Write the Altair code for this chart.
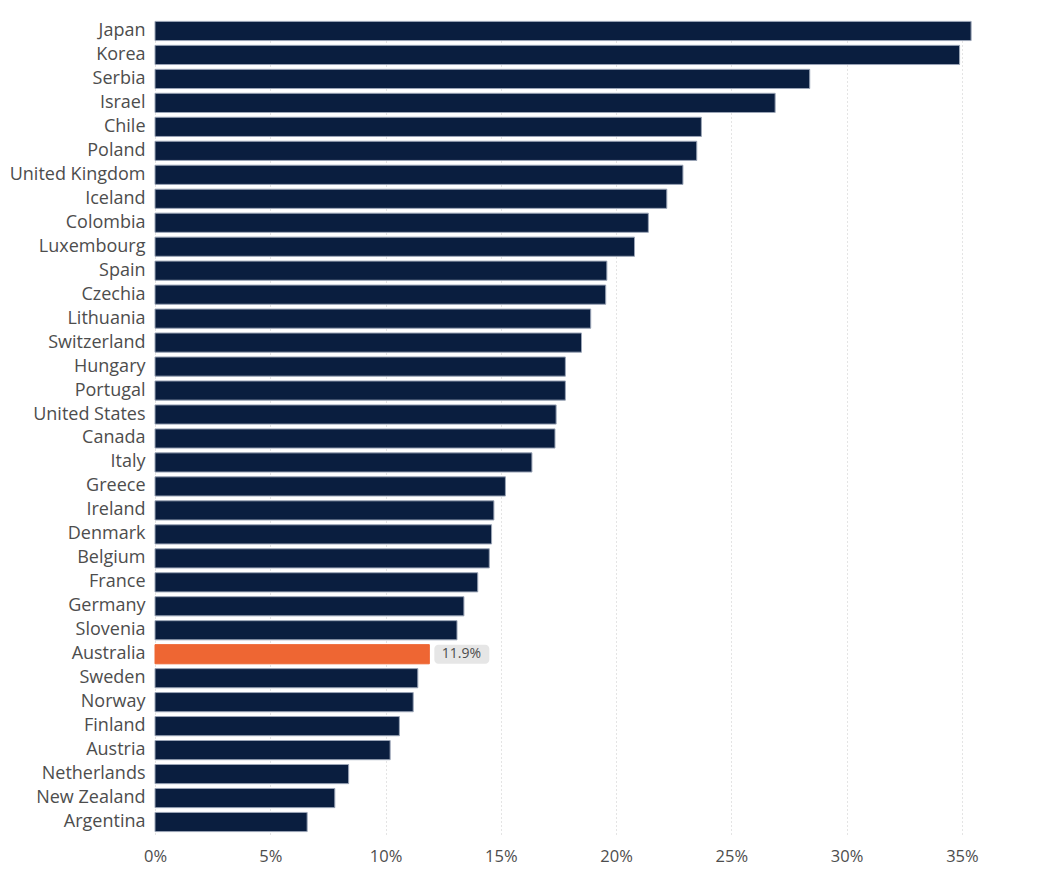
import altair as alt
import pandas as pd

countries = ["Japan", "Korea", "Serbia", "Israel", "Chile", "Poland", "United Kingdom",
             "Iceland", "Colombia", "Luxembourg", "Spain", "Czechia", "Lithuania",
             "Switzerland", "Hungary", "Portugal", "United States", "Canada", "Italy",
             "Greece", "Ireland", "Denmark", "Belgium", "France", "Germany", "Slovenia",
             "Australia", "Sweden", "Norway", "Finland", "Austria", "Netherlands",
             "New Zealand", "Argentina"]
values = [35.4, 34.9, 28.4, 26.9, 23.7, 23.5, 22.9, 22.2, 21.4, 20.8, 19.6, 19.55,
          18.9, 18.5, 17.8, 17.8, 17.4, 17.35, 16.35, 15.2, 14.7, 14.6, 14.5, 14.0,
          13.4, 13.1, 11.9, 11.4, 11.2, 10.6, 10.2, 8.4, 7.8, 6.6]
highlight = "Australia"
x_ticks = [0, 0.05, 0.10, 0.15, 0.20, 0.25, 0.30, 0.35]

df = pd.DataFrame({
    "country": countries,
    "value": [v / 100 for v in values],
    "hl": [c == highlight for c in countries],
})
df["label"] = df["value"].map(lambda v: f"{v*100:.1f}%")

FONT = "Open Sans"

y_enc = alt.Y("country:N", sort=None, title=None,
              scale=alt.Scale(paddingInner=0.2, paddingOuter=0.1),
              axis=alt.Axis(ticks=False, domain=False, labelFontSize=18,
                            labelColor="#4d4d4d", labelFont=FONT, labelPadding=10))
x_enc = alt.X("value:Q", title=None,
              scale=alt.Scale(domain=[0, 0.37], nice=False, zero=True),
              axis=alt.Axis(format=".0%", values=x_ticks, ticks=False, domain=False,
                            grid=True, gridDash=[1, 3], gridColor="#c8c8c8",
                            gridWidth=1, labelFontSize=16.5, labelColor="#4d4d4d",
                            labelFont=FONT, labelPadding=14, labelFlush=False))

base = alt.Chart(df)

bars = base.mark_bar(strokeWidth=1).encode(
    y=y_enc,
    x=x_enc,
    color=alt.condition("datum.hl", alt.value("#ee6633"), alt.value("#0a1e3f")),
    stroke=alt.condition("datum.hl", alt.value("#ee6633"), alt.value("#9aa4b6")),
)

hl_df = base.transform_filter("datum.hl")

tag = hl_df.mark_rect(color="#e6e6e6", cornerRadius=4, xOffset=5, x2Offset=60).encode(
    y=alt.Y("country:N", sort=None),
    x="value:Q",
    x2="value:Q",
)

tag_text = hl_df.mark_text(align="center", baseline="middle", dx=32, fontSize=14,
                           color="#4d4d4d", font=FONT).encode(
    y=alt.Y("country:N", sort=None),
    x="value:Q",
    text="label:N",
)

chart = alt.layer(bars, tag, tag_text).properties(
    width=853, height=815,
    padding={"left": 147, "top": 11, "right": 5, "bottom": 35},
    autosize=alt.AutoSizeParams(type="none"),
).configure_view(stroke=None)

chart.save("out.html", embed_options={"renderer": "svg", "actions": False})
